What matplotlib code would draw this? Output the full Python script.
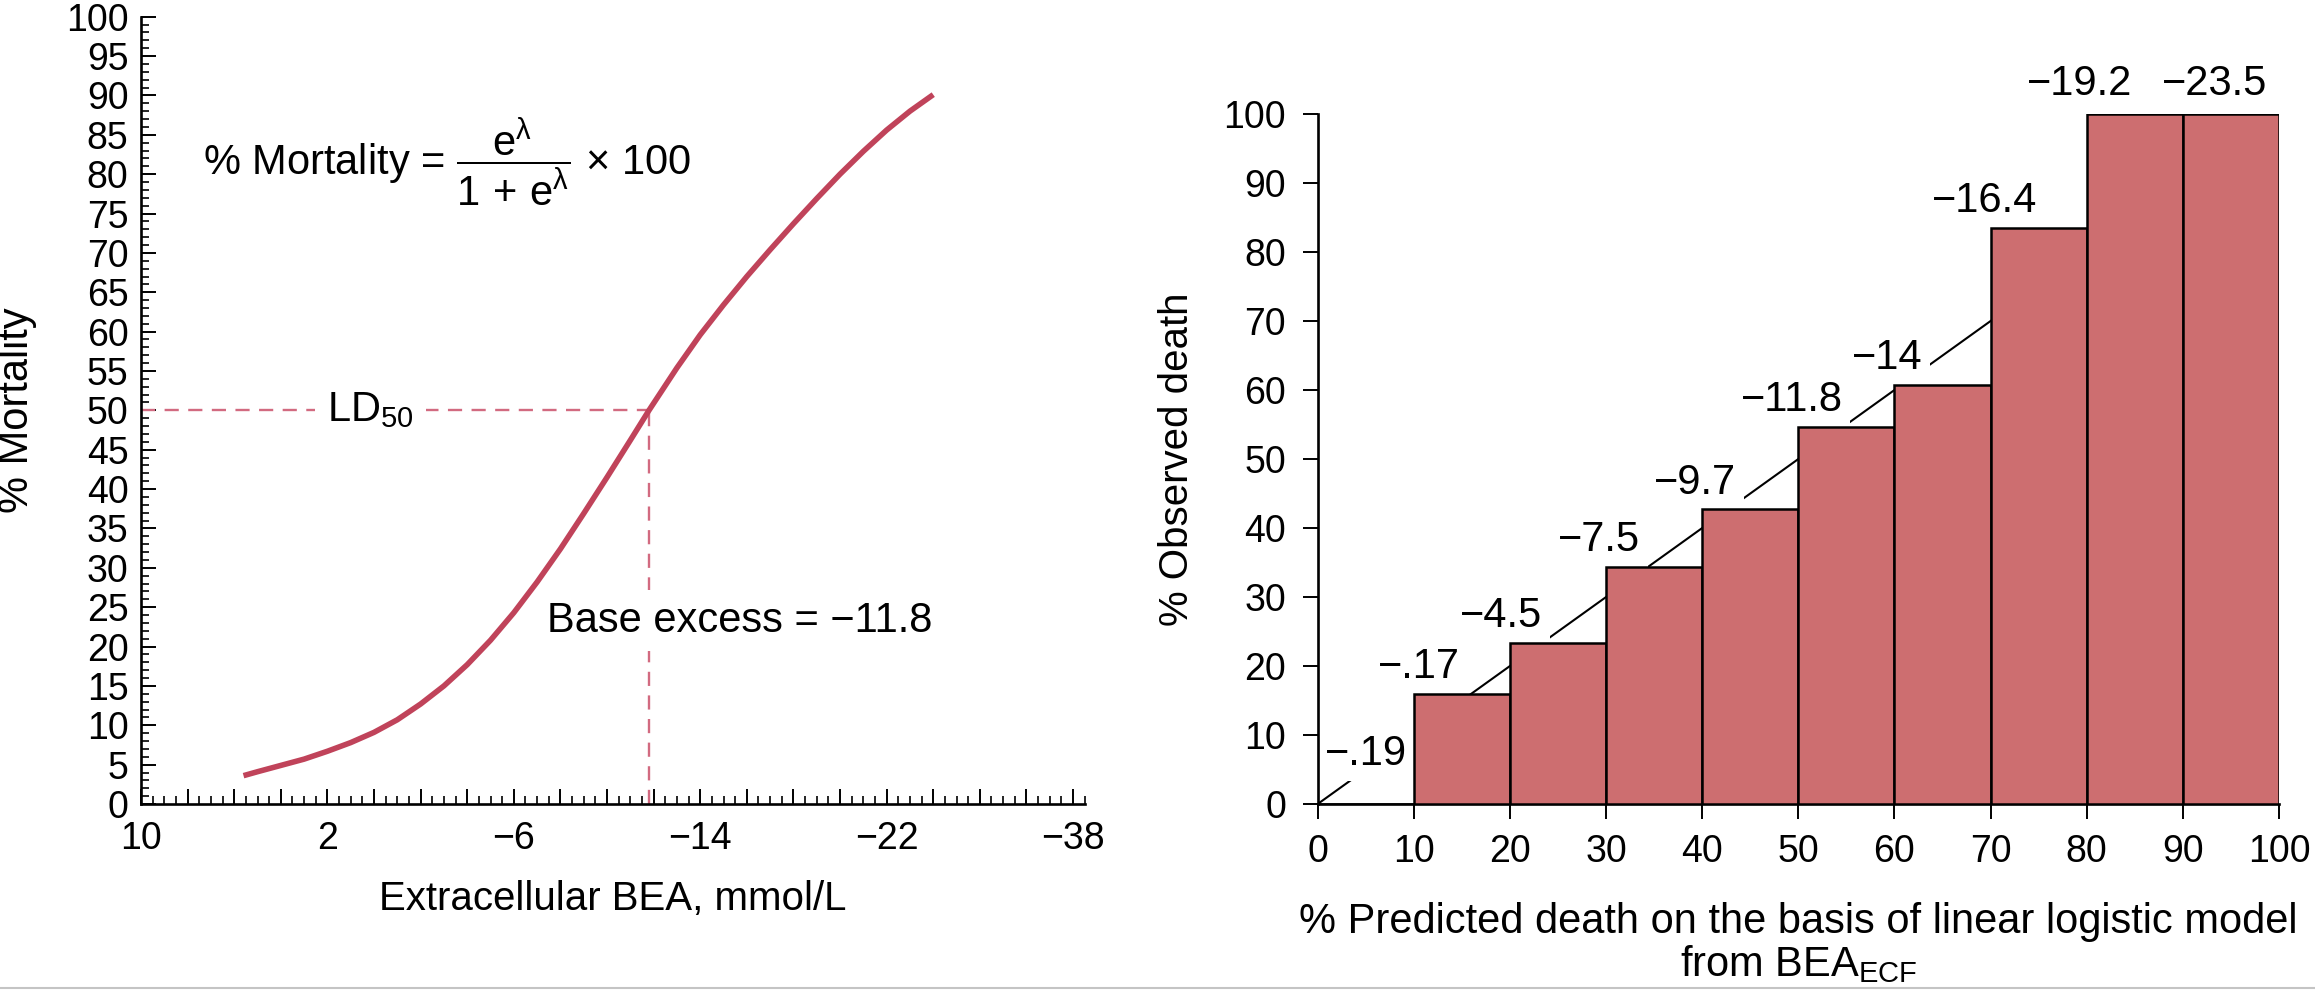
import numpy as np
import matplotlib
matplotlib.use('Agg')
import matplotlib.pyplot as plt
from matplotlib.ticker import MultipleLocator, FixedLocator, FixedFormatter
from matplotlib.lines import Line2D

plt.rcParams['font.family'] = ['Liberation Sans', 'DejaVu Sans']
plt.rcParams['mathtext.fontset'] = 'custom'
plt.rcParams['mathtext.rm'] = 'Liberation Sans'
plt.rcParams['mathtext.it'] = 'Liberation Sans'
plt.rcParams['mathtext.default'] = 'regular'

# curva de mortalidad
bea = [5.6, 5, 4, 3, 2, 1, 0, -1, -2, -3, -4, -5, -6, -7, -8, -9, -10, -11, -11.8,
       -12, -13, -14, -15, -16, -17, -18, -19, -20, -21, -22, -23, -24]
mortalidad = [3.6, 4.1, 4.9, 5.7, 6.7, 7.8, 9.1, 10.7, 12.7, 15.0, 17.7, 20.8, 24.3,
              28.2, 32.4, 36.9, 41.5, 46.2, 50.0, 50.9, 55.4, 59.6, 63.4, 67.0, 70.4,
              73.7, 76.9, 80.0, 82.9, 85.6, 88.0, 90.1]
ld50_bea = -11.8
ld50 = 50

bea_ticks = [10, 2, -6, -14, -22, -30]
bea_tick_labels = ['10', '2', '−6', '−14', '−22', '−38']

# histograma: muerte predicha vs observada
pred_izq = [0, 10, 20, 30, 40, 50, 60, 70, 80, 90]
observada = [0, 16, 23.3, 34.3, 42.7, 54.7, 60.7, 83.5, 100, 100]
etiquetas_bea = ['−.19', '−.17', '−4.5', '−7.5', '−9.7', '−11.8', '−14', '−16.4', '−19.2', '−23.5']

# posicion de las etiquetas respecto al borde izquierdo / altura de cada barra
etq_dx = [5.0, 0.5, -0.9, -0.7, -0.7, -0.7, -0.7, -0.6, -0.7, 3.3]
etq_dy = [5.6, 2.2, 2.4, 2.3, 2.3, 2.3, 2.3, 2.3, 2.8, 2.8]

rojo = '#C0435A'
rosa = '#D26A80'
barra = '#CD6E70'

fig = plt.figure(figsize=(23.15, 9.9), dpi=100)
W, H = 2315, 990

# ---- grafica izquierda ----
ax1 = fig.add_axes([141 / W, 1 - 804 / H, 943.7 / W, (804 - 16.7) / H])
ax1.set_xlim(10, -30.5)
ax1.set_ylim(0, 100)
ax1.plot(bea, mortalidad, color=rojo, lw=4, solid_joinstyle='round',
         solid_capstyle='butt', zorder=3)
ax1.hlines(ld50, ax1.get_xlim()[0], ld50_bea, colors=rosa, lw=1.7,
           linestyles=(0, (6, 4)), zorder=2)
ax1.vlines(ld50_bea, 0, ld50, colors=rosa, lw=1.7, linestyles=(0, (6, 4)), zorder=2)

largos = np.arange(10, -31, -2)
nombres = dict(zip(bea_ticks, bea_tick_labels))
ax1.xaxis.set_major_locator(FixedLocator(largos))
ax1.xaxis.set_major_formatter(FixedFormatter([nombres.get(v, '') for v in largos]))
ax1.xaxis.set_minor_locator(MultipleLocator(0.5))
ax1.yaxis.set_major_locator(MultipleLocator(5))
ax1.yaxis.set_minor_locator(MultipleLocator(1))
ax1.tick_params(which='major', direction='in', length=10.8, width=1.4, labelsize=27)
ax1.tick_params(which='minor', direction='in', length=6, width=1.2)
ax1.tick_params(axis='x', pad=12)
ax1.tick_params(axis='y', pad=9)
for s in ['top', 'right']:
    ax1.spines[s].set_visible(False)
for s in ['left', 'bottom']:
    ax1.spines[s].set_linewidth(1.9)

ax1.set_xlabel('Extracellular BEA, mmol/L', fontsize=29)
ax1.xaxis.set_label_coords(0.5, -0.097)
ax1.set_ylabel('% Mortality', fontsize=30)
ax1.yaxis.set_label_coords(-0.131, 0.5)
ax1.yaxis.label.set_va('center')

ax1.text(7.36, 79.9, r'% Mortality = $\dfrac{e^{\lambda}}{1\,+\,e^{\lambda}}$ × 100',
         fontsize=30, ha='left', va='baseline')
ax1.text(0.15, 48.6, r'LD$_{50}$', fontsize=30, ha='center', va='baseline', zorder=4,
         bbox=dict(boxstyle='square,pad=0.3', fc='white', ec='none'))
ax1.text(-7.42, 21.9, 'Base excess = −11.8', fontsize=30, ha='left', va='baseline', zorder=4,
         bbox=dict(boxstyle='square,pad=0.25', fc='white', ec='none'))

# ---- grafica derecha ----
ax2 = fig.add_axes([1317.7 / W, 1 - 804 / H, 961.3 / W, 690 / H])
ax2.set_xlim(0, 100)
ax2.set_ylim(0, 100)
ax2.axline((0, 0), slope=1, color='black', lw=1.5, zorder=1)
ax2.bar(pred_izq, observada, width=10, align='edge', color=barra,
        edgecolor='black', lw=1.8, zorder=3)
for x, h, t, dx, dy in zip(pred_izq, observada, etiquetas_bea, etq_dx, etq_dy):
    ax2.text(x + dx, h + dy, t, fontsize=30, ha='center', va='baseline', zorder=2,
             bbox=dict(boxstyle='square,pad=0.17', fc='white', ec='none'))

ax2.xaxis.set_major_locator(MultipleLocator(10))
ax2.yaxis.set_major_locator(MultipleLocator(10))
ax2.tick_params(direction='out', length=10.8, width=1.4, labelsize=27)
ax2.tick_params(axis='x', pad=11)
ax2.tick_params(axis='y', pad=12)
for s in ['top', 'right']:
    ax2.spines[s].set_visible(False)
for s in ['left', 'bottom']:
    ax2.spines[s].set_linewidth(1.9)

ax2.set_ylabel('% Observed death', fontsize=29)
ax2.yaxis.set_label_coords(-0.146, 0.5)
ax2.yaxis.label.set_va('center')
ax2.set_xlabel('% Predicted death on the basis of linear logistic model', fontsize=30)
ax2.xaxis.set_label_coords(0.5, -0.142)
ax2.text(0.5, -0.25, 'from BEA$_{ECF}$', fontsize=30, ha='center', va='baseline',
         transform=ax2.transAxes)

# linea gris del borde inferior
fig.add_artist(Line2D([0, 1], [0.002, 0.002], transform=fig.transFigure,
                      color='#c4c4c4', lw=1.5))

fig.savefig('out.png', dpi=100)
